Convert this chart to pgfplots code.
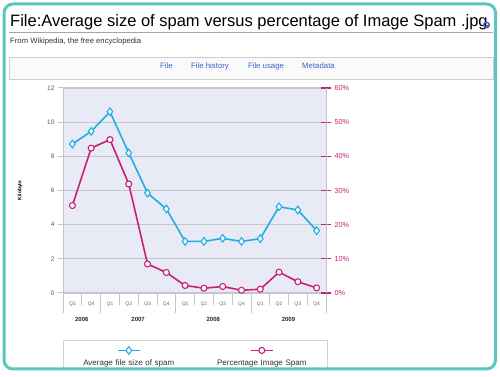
\documentclass[border=0pt]{standalone}
\usepackage{pgfplots}
\pgfplotsset{compat=1.18}
\usepackage{fontspec}
\setmainfont{Liberation Sans}
\definecolor{spamblue}{RGB}{30,176,228}
\definecolor{spammag}{RGB}{198,32,120}
\definecolor{framec}{RGB}{94,198,194}
\definecolor{plotbg}{RGB}{232,234,246}
\definecolor{gridc}{RGB}{196,197,205}
\definecolor{wikiblue}{RGB}{51,102,204}
\begin{document}
\begin{tikzpicture}
\path[use as bounding box] (0,0) rectangle (500pt,377pt);
% page header
\node[anchor=base west, inner sep=0, font=\fontsize{16.5}{19}\selectfont] at (10pt,350pt) {File:Average size of spam versus percentage of Image Spam .jpg};
\draw[black!35, line width=0.6pt] (9pt,345pt) -- (493pt,345pt);
\node[anchor=base west, inner sep=0, font=\fontsize{7.7}{9}\selectfont, text=black!80] at (10pt,333pt) {From Wikipedia, the free encyclopedia};
\draw[fill=black!2, draw=black!20, line width=0.6pt] (9pt,298pt) rectangle (493pt,320pt);
\foreach \x/\t in {166.5/File, 210/File history, 266/File usage, 318.5/Metadata}
  \node[anchor=base, inner sep=0, font=\fontsize{7.8}{9}\selectfont, text=wikiblue] at (\x pt,308pt) {\t};
\draw[wikiblue, line width=1.4pt] (486.5pt,352pt) circle (2.8pt);
\fill[red!80!black] (487.5pt,351pt) circle (1pt);
% main axis: Kilobyte
\begin{axis}[
  at={(63pt,84pt)}, anchor=south west,
  scale only axis, width=263pt, height=205pt,
  xmin=-0.5, xmax=13.5, ymin=0, ymax=12,
  xtick={0,...,13},
  xticklabels={Q3,Q4,Q1,Q2,Q3,Q4,Q1,Q2,Q3,Q4,Q1,Q2,Q3,Q4},
  ytick={0,2,...,12},
  ymajorgrids, grid style={gridc, line width=1.1pt},
  axis line style={gridc, line width=0.7pt},
  axis background/.style={fill=plotbg},
  ytick pos=left,
  tick align=outside,
  major tick length=5pt,
  x tick style={draw=none},
  y tick style={gridc, line width=1pt},
  /pgf/number format/assume math mode=true,
  yticklabel style={font=\fontsize{6.5}{7}\selectfont, text=black!65},
  xticklabel style={font=\fontsize{5}{6}\selectfont, text=black!60},
  ylabel={Kilobyte},
  ylabel style={font=\bfseries\fontsize{5}{6}\selectfont, at={(axis description cs:-0.1635,0.5)}, anchor=center},
  clip=false,
  legend columns=2,
  legend style={at={(axis description cs:0,0)}, anchor=north west, yshift=-47pt,
    draw=black!18, line width=0.6pt, fill=white, inner xsep=15.5pt, inner ysep=19.5pt,
    nodes={inner sep=0pt, text width=100pt, align=center, font=\fontsize{8}{9}\selectfont, text=black!80},
    /tikz/every even column/.append style={column sep=33pt}},
  legend image code/.code={%
    \begin{scope}[overlay, shift={(39pt,13pt)}]
    \draw[mark repeat=2, mark phase=2, #1] plot coordinates {(0pt,0pt) (11pt,0pt) (22pt,0pt)};
    \end{scope}},
]
\addplot[spamblue, line width=1.6pt, mark=diamond*, mark size=3.8pt,
  mark options={fill=white, draw=spamblue, line width=1.1pt}]
  coordinates {(0,8.72) (1,9.46) (2,10.61) (3,8.20) (4,5.85) (5,4.92) (6,3.02)
               (7,3.02) (8,3.20) (9,3.02) (10,3.18) (11,5.05) (12,4.86) (13,3.65)};
\addlegendentry{Average file size of spam}
\addlegendimage{spammag, line width=1.6pt, mark=*, mark size=3pt,
  mark options={fill=white, draw=spammag, line width=1.1pt}}
\addlegendentry{Percentage Image Spam}
\pgfplotsinvokeforeach{0.5,2.5,3.5,4.5,6.5,7.5,8.5,10.5,11.5,12.5}{
  \draw[gridc, line width=0.7pt] (axis cs:#1,0) -- ++(0pt,-12pt);}
\pgfplotsinvokeforeach{-0.5,1.5,5.5,9.5,13.5}{
  \draw[gridc, line width=0.7pt] (axis cs:#1,0) -- ++(0pt,-20pt);}
\node[font=\bfseries\fontsize{6}{7}\selectfont, text=black!85, yshift=-26.5pt] at (axis cs:0.5,0) {2006};
\node[font=\bfseries\fontsize{6}{7}\selectfont, text=black!85, yshift=-26.5pt] at (axis cs:3.5,0) {2007};
\node[font=\bfseries\fontsize{6}{7}\selectfont, text=black!85, yshift=-26.5pt] at (axis cs:7.5,0) {2008};
\node[font=\bfseries\fontsize{6}{7}\selectfont, text=black!85, yshift=-26.5pt] at (axis cs:11.5,0) {2009};
\end{axis}
% secondary axis: percentage
\begin{axis}[
  at={(63pt,84pt)}, anchor=south west,
  scale only axis, width=263pt, height=205pt,
  xmin=-0.5, xmax=13.5, ymin=0, ymax=60,
  xtick=\empty,
  ytick={0,10,...,60},
  ytick pos=right,
  axis line style={draw=none},
  tick align=center,
  major tick length=10pt,
  y tick style={spammag, line width=1.1pt},
  /pgf/number format/assume math mode=true,
  yticklabel={\pgfmathprintnumber{\tick}\%},
  yticklabel style={font=\fontsize{7.3}{8}\selectfont, text=spammag},
  clip=false,
]
\addplot[spammag, line width=1.6pt, mark=*, mark size=3pt,
  mark options={fill=white, draw=spammag, line width=1.1pt}]
  coordinates {(0,25.6) (1,42.4) (2,44.9) (3,31.9) (4,8.5) (5,6.0) (6,2.2)
               (7,1.4) (8,1.9) (9,0.8) (10,1.1) (11,6.1) (12,3.3) (13,1.5)};
\end{axis}
\draw[gridc, line width=0.7pt] (326pt,84pt) -- (326pt,289pt);
% cover below frame and frame
\fill[white] (0,0) rectangle (500pt,7.5pt);
\draw[framec, line width=3pt, rounded corners=9pt] (4pt,8pt) rectangle (495.5pt,373pt);
\end{tikzpicture}
\end{document}
